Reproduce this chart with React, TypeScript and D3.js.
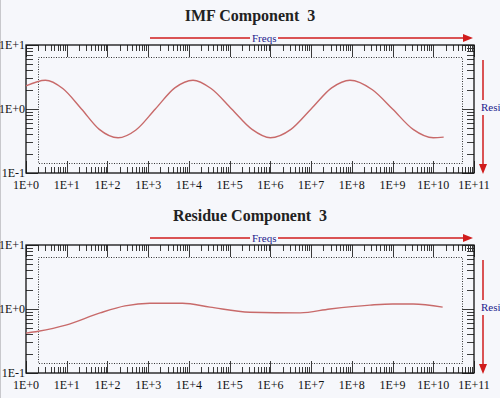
import React, { useEffect, useRef } from "react";
import * as d3 from "d3";

const imfFreqs = [1, 3, 8, 23, 63, 182, 500, 1500, 4500, 12600, 35000, 112000, 355000, 1e6, 3.2e6, 1e7, 3.2e7, 9e7, 3.2e8, 1e9, 3.2e9, 1e10, 1.8e10];
const imfValues = [2.29, 2.82, 2.09, 1.0, 0.48, 0.355, 0.47, 1.0, 2.14, 2.82, 2.09, 1.0, 0.48, 0.355, 0.48, 1.0, 2.14, 2.82, 2.0, 1.0, 0.48, 0.355, 0.363];

const resFreqs = [1, 2, 9.5, 66, 270, 1100, 7000, 33000, 316000, 5.4e6, 2.9e7, 2.8e8, 1e9, 3.2e9, 1.7e10];
const resValues = [0.42, 0.45, 0.56, 0.87, 1.12, 1.23, 1.23, 1.07, 0.89, 0.87, 1.0, 1.15, 1.2, 1.2, 1.07];

const titles = ["IMF Component  3", "Residue Component  3"];
const xTickLabels = ["1E+0", "1E+1", "1E+2", "1E+3", "1E+4", "1E+5", "1E+6", "1E+7", "1E+8", "1E+9", "1E+10", "1E+11"];
const yTickLabels = ["1E-1", "1E+0", "1E+1"];

const BG = "#f6f7fb";
const SERIF = "'Liberation Serif', 'DejaVu Serif', serif";

export default function App() {
  const ref = useRef<SVGSVGElement | null>(null);

  useEffect(() => {
    const svgEl = ref.current;
    if (!svgEl) return;
    const svg = d3.select(svgEl);
    svg.selectAll("*").remove();

    const W = 500;
    const H = 398;
    svg.append("rect").attr("width", W).attr("height", H).attr("fill", BG);
    svg.append("line").attr("x1", 0.5).attr("x2", 0.5).attr("y1", 0).attr("y2", H).attr("stroke", "#c8c8cc");

    const left = 26, right = 474, top = 45, bottom = 173;
    const x = d3.scaleLog().domain([1, 1e11]).range([left, right]);
    const y = d3.scaleLog().domain([0.1, 10]).range([bottom, top]);

    const xTicks: { v: number; major: boolean }[] = [];
    for (let k = 0; k <= 10; k++) {
      for (let m = 1; m <= 9; m++) xTicks.push({ v: m * Math.pow(10, k), major: m === 1 });
    }
    xTicks.push({ v: 1e11, major: true });
    const yTicks: { v: number; major: boolean }[] = [];
    for (let k = -1; k <= 0; k++) {
      for (let m = 1; m <= 9; m++) yTicks.push({ v: m * Math.pow(10, k), major: m === 1 });
    }
    yTicks.push({ v: 10, major: true });

    const panels = [
      { oy: 0, freqs: imfFreqs, values: imfValues },
      { oy: 200, freqs: resFreqs, values: resValues },
    ];

    panels.forEach((p, pi) => {
      const g = svg.append("g").attr("transform", `translate(0,${p.oy})`);

      g.append("text")
        .attr("x", 250)
        .attr("y", 21)
        .attr("text-anchor", "middle")
        .attr("font-family", SERIF)
        .attr("font-weight", "bold")
        .attr("font-size", 16)
        .attr("fill", "#222")
        .style("white-space", "pre")
        .text(titles[pi]);

      // inner dotted box
      g.append("rect")
        .attr("x", left + 12.5)
        .attr("y", top + 12.5)
        .attr("width", right - left - 24)
        .attr("height", bottom - top - 22)
        .attr("fill", "none")
        .attr("stroke", "#333")
        .attr("stroke-dasharray", "1,1.5");

      // ticks
      const tk = g.append("g").attr("stroke", "#3a3a3a").attr("stroke-width", 1).attr("shape-rendering", "crispEdges");
      xTicks.forEach((t) => {
        const px = Math.round(x(t.v)) + 0.5;
        const len = t.major ? 12 : 6;
        tk.append("line").attr("x1", px).attr("x2", px).attr("y1", top).attr("y2", top + len);
        tk.append("line").attr("x1", px).attr("x2", px).attr("y1", bottom).attr("y2", bottom - len);
      });
      yTicks.forEach((t) => {
        const py = Math.round(y(t.v)) + 0.5;
        const len = t.major ? 12 : 7;
        tk.append("line").attr("x1", left).attr("x2", left + len).attr("y1", py).attr("y2", py);
        tk.append("line").attr("x1", right).attr("x2", right - len).attr("y1", py).attr("y2", py);
      });

      // frame
      g.append("rect")
        .attr("x", left)
        .attr("y", top)
        .attr("width", right - left)
        .attr("height", bottom - top)
        .attr("fill", "none")
        .attr("stroke", "#111")
        .attr("stroke-width", 1.3);

      // curve
      const pts = p.freqs.map((f, i) => [f, p.values[i]] as [number, number]);
      g.append("path")
        .datum(pts)
        .attr("fill", "none")
        .attr("stroke", "#c86a6a")
        .attr("stroke-width", 1.4)
        .attr("d", d3.line<[number, number]>().x((d) => x(d[0])).y((d) => y(d[1])).curve(d3.curveMonotoneX));

      // x tick labels
      xTickLabels.forEach((lab, i) => {
        g.append("text")
          .attr("x", x(Math.pow(10, i)))
          .attr("y", 189)
          .attr("text-anchor", "middle")
          .attr("font-family", SERIF)
          .attr("font-size", 12)
          .attr("fill", "#111")
          .text(lab);
      });
      yTickLabels.forEach((lab, i) => {
        g.append("text")
          .attr("x", 25)
          .attr("y", y(Math.pow(10, i - 1)) + 4)
          .attr("text-anchor", "end")
          .attr("font-family", SERIF)
          .attr("font-size", 12)
          .attr("fill", "#111")
          .text(lab);
      });

      // Freqs arrow
      const red = "#d01c1c";
      g.append("line").attr("x1", 150).attr("x2", 465).attr("y1", 38).attr("y2", 38).attr("stroke", red).attr("stroke-width", 1.5);
      g.append("path").attr("d", "M473,38 L463,34 L463,42 Z").attr("fill", red);
      g.append("rect").attr("x", 250).attr("y", 31).attr("width", 28).attr("height", 13).attr("fill", BG);
      g.append("text")
        .attr("x", 252)
        .attr("y", 42)
        .attr("font-family", SERIF)
        .attr("font-size", 11)
        .attr("fill", "#1c1c8c")
        .text("Freqs");

      // Residue arrow
      g.append("line").attr("x1", 483).attr("x2", 483).attr("y1", 60).attr("y2", 166).attr("stroke", red).attr("stroke-width", 1.5);
      g.append("path").attr("d", "M483,174 L479,164 L487,164 Z").attr("fill", red);
      g.append("rect").attr("x", 479).attr("y", 100).attr("width", 21).attr("height", 15).attr("fill", BG);
      g.append("text")
        .attr("x", 481)
        .attr("y", 111)
        .attr("font-family", SERIF)
        .attr("font-size", 11)
        .attr("fill", "#1c1c8c")
        .text("Resi");
    });
  }, []);

  return (
    <div style={{ position: "fixed", left: 0, top: 0, width: 500, height: 398, overflow: "hidden" }}>
      <svg ref={ref} width={500} height={398} style={{ display: "block" }} />
    </div>
  );
}
